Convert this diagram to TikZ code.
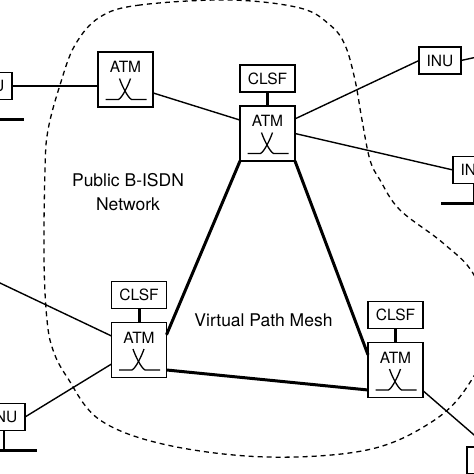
\documentclass[tikz,border=0pt]{standalone}
\usepackage{fontspec}
\setmainfont{TeX Gyre Heros}
\usetikzlibrary{positioning}

\begin{document}
\begin{tikzpicture}[x=1pt, y=-1pt,
  every node/.style={outer sep=0pt, inner sep=0pt},
  box/.style={draw, fill=white, line width=1.5pt, font=\fontsize{15.5}{18}\selectfont},
  atm/.style={box, minimum width=55pt, minimum height=55pt},
  clsf/.style={box, minimum width=55pt, minimum height=27pt},
  inu/.style={box, minimum width=42pt, minimum height=27pt},
  lbl/.style={font=\fontsize{15.5}{18}\selectfont},
  big/.style={font=\fontsize{17.5}{24}\selectfont, align=center},
  link/.style={line width=1.4pt},
  vp/.style={line width=3pt},
  bus/.style={line width=3.2pt}]
\useasboundingbox (0,0) rectangle (474,474);
\clip (0,0) rectangle (474,474);

\draw[line width=1.3pt, dash pattern=on 5pt off 4pt] plot[smooth cycle, tension=0.6] coordinates {
  (230,0) (140,5) (100,17) (75,45) (60,85) (48,130) (45,170) (44,260) (47,320)
  (53,350) (67,377) (100,420) (167,445) (267,457) (367,450) (430,423) (467,387)
  (492,330) (474,275) (443,243) (400,210) (380,180) (370,160) (362,120) (355,80)
  (345,45) (330,25) (300,8)};

\node[atm] (a1) at (125.5,79.5) {};
\node[atm] (a2) at (267.5,133.5) {};
\node[atm] (a3) at (139,350) {};
\node[atm] (a4) at (395.5,370) {};

\node[clsf, above=14pt of a2] (c2) {CLSF};
\node[clsf, above=14pt of a3] (c3) {CLSF};
\node[clsf, above=14pt of a4] (c4) {CLSF};

\node[inu] (i1) at (-9,86) {INU};
\node[inu] (i2) at (440,60.5) {INU};
\node[inu] (i3) at (474,170) {INU};
\node[inu] (i4) at (4,417) {INU};
\node[inu] (i5) at (488,460.5) {INU};

\node[big] (pub) at (128,192) {Public B-ISDN\\Network};
\node[big] (vpm) at (263.5,320) {Virtual Path Mesh};

\coordinate (w) at (-40,264);
\coordinate (e) at (500,52);

\foreach \n in {a1,a2,a3,a4} {
  \node[lbl] (\n-t) at ([yshift=12.5pt]\n.center) {ATM};
  \draw[line width=1.3pt] ([shift={(-20,20)}]\n.center) -- ++(13,0)
    .. controls +(4,-2) and +(-2,6) .. ++(12,-21);
  \draw[line width=1.3pt] ([shift={(-6,-1)}]\n.center)
    .. controls +(2,6) and +(-4,-2) .. ++(12,21) -- ++(15,0);
}

\foreach \n in {2,3,4}
  \draw[vp] (c\n.south) -- (a\n.north);

\foreach \n in {1,3,4} {
  \draw[link] (i\n.south) -- ++(0,20) coordinate (b\n);
  \draw[bus] ([xshift=-33pt]b\n) -- ([xshift=33pt]b\n);
}

\draw[link] (i1.east) -- (i1.east -| a1.west);
\draw[link] (a1.-26) -- (a2.154);
\draw[link] (a2.28) -- (i2.west);
\draw[link] (i2.east) -- (e);
\draw[link] (a2.east) -- (i3.west);
\draw[link] (w) -- (a3.153);
\draw[link] (a3.207) -- (i4.east);
\draw[link] (a4.-37) -- (i5.north);

\draw[vp] (a2.south west) -- (a3.29);
\draw[vp] (a2.south east) -- (a4.151);
\draw[vp] (a3.-36) -- (a4.-144);
\end{tikzpicture}
\end{document}
